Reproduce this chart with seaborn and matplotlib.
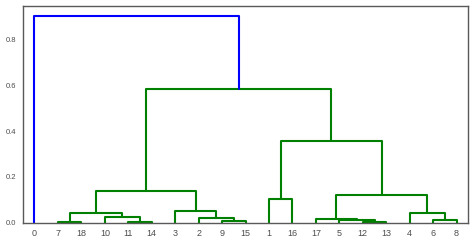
import matplotlib
matplotlib.use("Agg")
import matplotlib.pyplot as plt
import seaborn as sns
import pandas as pd

sns.set_style("white")
plt.rcParams["font.family"] = ["Liberation Sans", "DejaVu Sans"]

leaf_order = [0, 7, 18, 10, 11, 14, 3, 2, 9, 15, 1, 16, 17, 5, 12, 13, 4, 6, 8]
n_leaves = 19
# merges: cluster id = n_leaves + index
merge_left = [7, 11, 12, 9, 6, 5, 17, 2, 10, 19, 4, 3, 1, 25, 28, 31, 33, 0]
merge_right = [18, 14, 13, 15, 8, 21, 24, 22, 20, 27, 23, 26, 16, 29, 30, 32, 34, 35]
merge_height = [0.003, 0.003, 0.003, 0.009, 0.010, 0.013, 0.017, 0.019, 0.025,
                0.044, 0.044, 0.050, 0.102, 0.121, 0.140, 0.357, 0.587, 0.903]
color_threshold = 0.7 * max(merge_height)

fig = plt.figure(figsize=(4.74, 2.42), dpi=100)
ax = fig.add_axes([0.048, 0.08, 0.940, 0.895])

pos = {leaf: 5 + 10 * i for i, leaf in enumerate(leaf_order)}
hgt = {leaf: 0.0 for leaf in leaf_order}
for k, (a, b, h) in enumerate(zip(merge_left, merge_right, merge_height)):
    cid = n_leaves + k
    xa, xb = pos[a], pos[b]
    pos[cid] = (xa + xb) / 2
    hgt[cid] = h
    col = "g" if h < color_threshold else "b"
    df = pd.DataFrame({"x": [xa, xa, xb, xb], "y": [hgt[a], h, h, hgt[b]]})
    sns.lineplot(data=df, x="x", y="y", sort=False, estimator=None, color=col,
                 lw=1.5, ax=ax)

ax.set_xlim(0, 10 * n_leaves)
ax.set_ylim(0, max(merge_height) * 1.05)
ax.set_xticks([5 + 10 * i for i in range(n_leaves)])
ax.set_xticklabels([str(l) for l in leaf_order], fontsize=6.5, color=".3")
ax.set_yticks([0.0, 0.2, 0.4, 0.6, 0.8])
ax.set_yticklabels(["0.0", "0.2", "0.4", "0.6", "0.8"], fontsize=5.5, color=".3")
ax.tick_params(axis="x", length=0, pad=4.5)
ax.tick_params(axis="y", length=0, pad=4.8)
ax.set_xlabel("")
ax.set_ylabel("")
for s in ax.spines.values():
    s.set_color(".35")
    s.set_linewidth(1.0)

fig.savefig("out.png", dpi=100)
